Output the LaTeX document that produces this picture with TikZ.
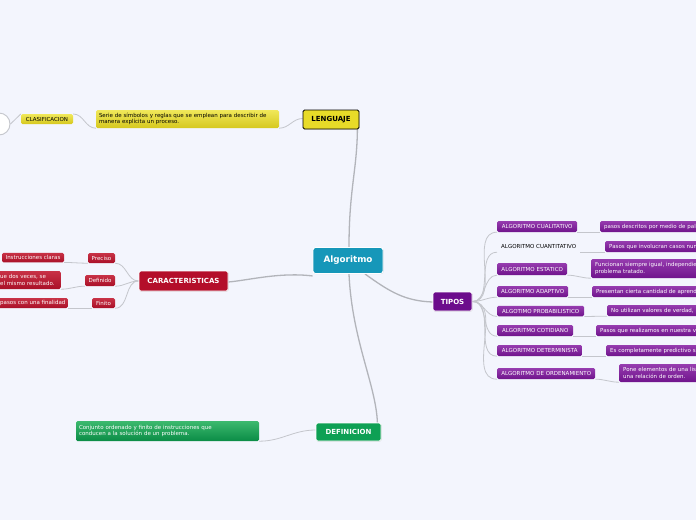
\documentclass[tikz,border=0pt]{standalone}
\usepackage{fontspec}
\setmainfont{DejaVu Sans}
\usetikzlibrary{shadows}
\pgfdeclarelayer{bgl}
\pgfsetlayers{bgl,main}
\definecolor{bg}{RGB}{243,245,253}
\definecolor{lin}{RGB}{196,198,204}
\definecolor{linm}{RGB}{178,180,186}
\definecolor{teal}{RGB}{22,151,185}
\definecolor{yel}{RGB}{232,219,40}
\definecolor{yell}{RGB}{240,232,90}
\definecolor{yeld}{RGB}{214,200,30}
\definecolor{redm}{RGB}{180,14,42}
\definecolor{redl}{RGB}{200,50,70}
\definecolor{redd}{RGB}{170,16,40}
\definecolor{purm}{RGB}{108,12,140}
\definecolor{purl}{RGB}{150,60,175}
\definecolor{purd}{RGB}{112,20,140}
\definecolor{grn}{RGB}{14,160,84}
\definecolor{grnl}{RGB}{60,185,110}
\definecolor{grnd}{RGB}{10,140,70}
\tikzset{
  base/.style={rounded corners=1.5pt, inner sep=0pt, align=center},
  small/.style={font=\fontsize{5.5}{6.6}\selectfont},
  mainbox/.style={base, draw=white, line width=0.8pt, font=\bfseries\fontsize{7}{8}\selectfont, text=white,
    drop shadow={opacity=0.25, shadow xshift=0.6pt, shadow yshift=-0.6pt}},
  central/.style={base, rounded corners=2.5pt, fill=teal, draw=white, line width=0.9pt, text=white,
    font=\bfseries\fontsize{8.8}{10}\selectfont, minimum width=70, minimum height=26,
    drop shadow={opacity=0.2, shadow xshift=0.6pt, shadow yshift=-0.6pt}},
  ybox/.style={base, small, top color=yell, bottom color=yeld, text=black},
  rbox/.style={base, small, top color=redl, bottom color=redd, text=white},
  pbox/.style={base, small, top color=purl, bottom color=purd, text=white},
  gbox/.style={base, small, top color=grnl, bottom color=grnd, text=white},
  conn/.style={draw=lin, line width=0.8pt},
  mconn/.style={draw=linm, line width=1.3pt},
}
\begin{document}
\begin{tikzpicture}[x=1pt,y=-1pt]
\useasboundingbox (0,0) rectangle (696,520);
\begin{pgfonlayer}{bgl}
\fill[bg] (0,0) rectangle (696,520);
\end{pgfonlayer}

% central
\node[central] (alg) at (348,260.5) {Algoritmo};

% LENGUAJE branch
\node[mainbox, fill=yel, draw=black, text=black, minimum width=56, minimum height=19] (len) at (331,119.5) {LENGUAJE};
\node[ybox, minimum width=183, minimum height=18, text width=177, align=left] (lendesc) at (187.5,119)
  {Serie de símbolos y reglas que se emplean para describir de\\manera explícita un proceso.};
\node[ybox, minimum width=52, minimum height=10] (clas) at (47,119) {CLASIFICACION};
\node[circle, draw=lin, fill=white, line width=0.9pt, minimum size=22, inner sep=0pt] (circ) at (-1,124) {};

% CARACTERISTICAS branch
\node[mainbox, fill=redm, minimum width=89, minimum height=20] (car) at (183.5,281) {CARACTERISTICAS};
\node[rbox, minimum width=27, minimum height=10] (pre) at (101.5,258) {Preciso};
\node[rbox, minimum width=30, minimum height=11] (def) at (100,280.5) {Definido};
\node[rbox, minimum width=23, minimum height=10] (fin) at (103.5,303) {Finito};
\node[rbox, minimum width=62, minimum height=9.5] (instr) at (33,257.5) {Instrucciones claras};
\node[rbox, anchor=east, minimum width=75, minimum height=18] (defd) at (61,280) {};
\node[small, anchor=west, text=white, align=left, inner sep=0pt] (defdt) at (0,280) {ue dos veces, se\\el mismo resultado.};
\node[rbox, anchor=east, minimum width=80, minimum height=10] (find) at (68,303) {};
\node[small, anchor=west, text=white, inner sep=0pt] (findt) at (0,303) {pasos con una finalidad};

% TIPOS branch
\node[mainbox, fill=purm, minimum width=39, minimum height=19] (tip) at (452.5,301.5) {TIPOS};
\node[pbox, anchor=west, minimum width=80, minimum height=11] (t1) at (497,226.5) {ALGORITMO CUALITATIVO};
\node[base, small, anchor=west, minimum width=83, minimum height=11, text=black] (t2) at (497,246.5) {ALGORITMO CUANTITATIVO};
\node[pbox, anchor=west, minimum width=70, minimum height=12] (t3) at (497,269) {ALGORITMO ESTATICO};
\node[pbox, anchor=west, minimum width=71, minimum height=11] (t4) at (497,291.5) {ALGORITMO ADAPTIVO};
\node[pbox, anchor=west, minimum width=87, minimum height=10.5] (t5) at (497,311) {ALGOTIMO PROBABILISTICO};
\node[pbox, anchor=west, minimum width=76, minimum height=11] (t6) at (497,330.5) {ALGORITMO COTIDIANO};
\node[pbox, anchor=west, minimum width=85, minimum height=11] (t7) at (497,350.5) {ALGORITMO DETERMINISTA};
\node[pbox, anchor=west, minimum width=98, minimum height=11] (t8) at (497,373.5) {ALGORITMO DE ORDENAMIENTO};

\node[pbox, anchor=west, minimum height=11, text width=110, align=left, inner xsep=4pt] (d1) at (600,226.5) {pasos descritos por medio de pal};
\node[pbox, anchor=west, minimum height=11, text width=110, align=left, inner xsep=4pt] (d2) at (605,246.5) {Pasos que involucran casos num};
\node[pbox, anchor=west, minimum height=19, text width=120, align=left, inner xsep=4pt] (d3) at (591,268.5) {Funcionan siempre igual, independie\\problema tratado.};
\node[pbox, anchor=west, minimum height=11, text width=120, align=left, inner xsep=4pt] (d4) at (592,291.5) {Presentan cierta cantidad de aprend};
\node[pbox, anchor=west, minimum height=11, text width=110, align=left, inner xsep=4pt] (d5) at (607,310.5) {No utilizan valores de verdad,};
\node[pbox, anchor=west, minimum height=11, text width=110, align=left, inner xsep=4pt] (d6) at (596,330.5) {Pasos que realizamos en nuestra v};
\node[pbox, anchor=west, minimum height=11, text width=110, align=left, inner xsep=4pt] (d7) at (606,350.5) {Es completamente predictivo si};
\node[pbox, anchor=west, minimum height=18, text width=110, align=left, inner xsep=4pt] (d8) at (619,373) {Pone elementos de una lis\\una relación de orden.};

% DEFINICION branch
\node[mainbox, fill=grn, minimum width=65, minimum height=18] (defi) at (348.5,432) {DEFINICION};
\node[gbox, minimum width=183, minimum height=20, text width=177, align=left] (defid) at (167.5,431)
  {Conjunto ordenado y finito de instrucciones que\\conducen a la solución de un problema.};

\begin{pgfonlayer}{bgl}
% main connectors
\draw[mconn] ([xshift=1pt]alg.north) .. controls (349,190) and (357,170) .. ([xshift=-2pt]len.south east);
\draw[mconn] ([yshift=-2pt]alg.south west) .. controls (280,272) and (250,280) .. ([yshift=-1pt]car.east);
\draw[mconn] ([xshift=17pt]alg.south) .. controls (390,292) and (405,301) .. ([yshift=-0.5pt]tip.west);
\draw[mconn] ([xshift=1pt]alg.south) .. controls (352,340) and (376,385) .. ([xshift=-4pt]defi.north east);

% LENGUAJE connectors
\draw[conn] ([yshift=1pt]len.west) to[out=180,in=0] (lendesc.south east);
\draw[conn] (lendesc.south west) to[out=180,in=0] ([yshift=5pt]clas.east);
\draw[conn] ([yshift=5pt]clas.west) -- (circ.east);

% CARACTERISTICAS connectors
\foreach \n in {pre,def,fin}{
  \draw[conn] (car.west) to[out=180,in=0] (\n.south east);
}
\draw[conn] (pre.south west) to[out=180,in=0] (instr.south east);
\draw[conn] (def.south west) to[out=180,in=0] (defd.south east);
\draw[conn] (fin.south west) to[out=180,in=0] (find.south east);

% TIPOS connectors
\foreach \n in {t1,t2,t3,t4,t5,t6,t7,t8}{
  \draw[conn] (tip.east) to[out=0,in=180] (\n.south west);
}
\foreach \a/\b in {t1/d1,t2/d2,t3/d3,t4/d4,t5/d5,t6/d6,t7/d7,t8/d8}{
  \draw[conn] (\a.south east) to[out=0,in=180] (\b.south west);
}

% DEFINICION connector
\draw[conn] ([yshift=2pt]defi.west) to[out=180,in=0] (defid.south east);
\end{pgfonlayer}
\end{tikzpicture}
\end{document}
